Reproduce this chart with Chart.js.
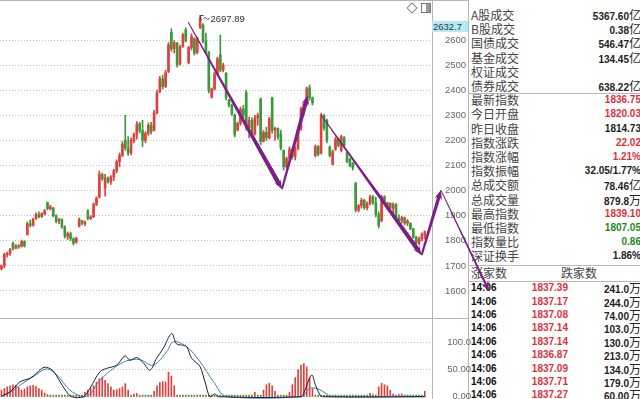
<!DOCTYPE html>
<html><head><meta charset="utf-8">
<script src="https://cdn.jsdelivr.net/npm/chart.js@4"></script>
<style>
html,body{margin:0;padding:0;background:#fff;}
#wrap{position:relative;width:640px;height:399px;overflow:hidden;background:#fff;}
#c{position:absolute;left:0;top:0;z-index:2;}
#panel{position:absolute;left:468px;top:0;width:171px;height:399px;border-left:1px solid #b4b4b4;z-index:1;font-family:"Noto Sans CJK SC",sans-serif;}
.row{position:absolute;left:2px;right:0;height:14px;line-height:14px;font-size:12px;color:#444;white-space:nowrap;}
.val{position:absolute;right:-1px;top:0;font:bold 10px "Liberation Sans",sans-serif;line-height:14px;color:#222;}
.u{font:12px "Noto Sans CJK SC",sans-serif;line-height:14px;}
.sep{position:absolute;left:0;right:0;height:1px;background:#b8b8b8;}
.tm{position:absolute;left:0;top:0;font:bold 10px "Liberation Sans",sans-serif;line-height:14px;color:#111;}
.pr{position:absolute;right:72px;top:0;font:bold 10px "Liberation Sans",sans-serif;line-height:14px;color:#e0303a;}
.r{color:#e0303a;} .g{color:#1e8a1e;} .k{color:#222;}
#cur{position:absolute;left:432px;top:21px;width:35px;height:11px;background:#b4eaf2;font:9.5px "Liberation Sans",sans-serif;line-height:11px;color:#334;z-index:3;padding-left:1px;}
#ic1{position:absolute;left:408px;top:4px;width:6px;height:6px;border:1px solid #888;transform:rotate(45deg);z-index:3;}
#ic2{position:absolute;left:421px;top:3px;width:8px;height:8px;border:1px solid #777;z-index:3;background:linear-gradient(90deg,#fff 50%,#999 50%);}
</style></head>
<body>
<div id="wrap">
<canvas id="c" width="640" height="399"></canvas>
<div id="cur">2632.7</div>
<div id="ic1"></div><div id="ic2"></div>
<div id="panel"></div>
</div>
<script>
// ---- candle data [open, high, low, close] ----
const ohlc = [
[1688,1704,1684,1700],[1700,1751,1692,1745],[1745,1755,1735,1750],[1750,1770,1742,1765],[1790,1795,1763,1770],
[1770,1785,1768,1780],[1780,1785,1770,1775],[1778,1803,1775,1798],[1798,1800,1775,1780],[1825,1875,1823,1868],
[1868,1883,1855,1862],[1862,1890,1858,1885],[1888,1911,1885,1905],[1905,1915,1891,1896],[1896,1912,1893,1908],
[1908,1925,1903,1920],[1952,1955,1923,1928],[1928,1942,1922,1935],[1931,1933,1895,1900],[1900,1903,1871,1878],
[1878,1890,1868,1885],[1885,1888,1850,1855],[1855,1860,1811,1818],[1818,1835,1805,1828],[1828,1835,1800,1808],
[1808,1812,1783,1790],[1795,1815,1790,1810],[1858,1891,1855,1885],[1880,1882,1863,1868],[1868,1880,1860,1875],
[1920,1923,1883,1888],[1888,1900,1885,1895],[1895,1951,1893,1945],[1945,1975,1940,1970],[1975,2078,1970,2065],
[2065,2070,2040,2048],[2010,2065,1978,2050],[2050,2055,2030,2035],[2035,2060,2025,2055],[2055,2085,2040,2078],
[2078,2122,2070,2115],[2115,2150,2095,2140],[2140,2195,2135,2185],[2200,2300,2160,2170],[2170,2215,2140,2150],
[2150,2210,2142,2200],[2200,2230,2190,2222],[2222,2275,2205,2265],[2265,2272,2230,2240],[2240,2280,2175,2200],
[2200,2235,2190,2228],[2228,2270,2220,2260],[2260,2272,2225,2235],[2240,2320,2238,2310],[2310,2400,2305,2390],
[2395,2455,2390,2445],[2445,2460,2405,2415],[2415,2480,2410,2470],[2475,2590,2470,2580],[2630,2645,2555,2565],
[2565,2598,2548,2590],[2588,2590,2492,2500],[2505,2580,2500,2572],[2575,2628,2570,2620],[2640,2648,2592,2598],
[2510,2575,2505,2570],[2570,2625,2560,2615],[2605,2610,2540,2548],[2550,2612,2545,2605],[2650,2697.89,2645,2688],
[2660,2665,2588,2595],[2595,2628,2545,2550],[2550,2555,2389,2400],[2372,2409,2369,2405],[2405,2473,2400,2465],
[2465,2532,2460,2525],[2540,2620,2473,2480],[2480,2508,2473,2500],[2468,2470,2361,2370],[2361,2365,2333,2340],
[2340,2345,2300,2305],[2301,2305,2214,2222],[2241,2273,2238,2268],[2268,2333,2260,2325],[2325,2340,2290,2300],
[2390,2400,2241,2250],[2250,2293,2210,2280],[2280,2290,2215,2225],[2225,2300,2221,2290],[2290,2309,2260,2300],
[2365,2369,2182,2195],[2195,2240,2194,2232],[2232,2253,2200,2210],[2210,2293,2205,2285],[2370,2373,2229,2240],
[2240,2253,2201,2248],[2248,2250,2205,2215],[2225,2241,2162,2170],[2160,2162,2082,2095],[2095,2134,2090,2128],
[2128,2174,2120,2165],[2165,2170,2125,2135],[2135,2175,2122,2168],[2168,2253,2162,2245],[2245,2333,2241,2325],
[2325,2350,2300,2345],[2345,2413,2340,2405],[2410,2421,2360,2370],[2370,2373,2341,2350],[2140,2182,2134,2175],
[2175,2180,2138,2145],[2150,2309,2145,2300],[2300,2305,2241,2250],[2280,2285,2190,2200],[2174,2178,2134,2140],
[2105,2162,2102,2155],[2165,2213,2160,2205],[2205,2210,2174,2180],[2160,2221,2154,2215],[2210,2215,2174,2180],
[2150,2152,2110,2115],[2125,2130,2094,2100],[2110,2112,2082,2090],[2030,2032,1915,1922],[1922,1945,1915,1940],
[1940,1970,1930,1962],[1962,1965,1925,1932],[1932,1955,1923,1948],[1948,1982,1943,1975],[1975,1980,1945,1952],
[1952,1974,1895,1905],[1905,1915,1851,1860],[1880,1982,1875,1975],[1975,1980,1950,1958],[1930,1955,1923,1950],
[1950,1952,1925,1930],[1930,1951,1900,1945],[1945,1948,1883,1890],[1890,1903,1871,1880],[1880,1898,1870,1892],
[1892,1895,1863,1870],[1870,1885,1860,1878],[1870,1872,1843,1848],[1848,1850,1810,1815],[1815,1818,1771,1790],
[1790,1815,1785,1808],[1808,1832,1800,1825],[1822,1839.10,1807.05,1836.75]
];
const priceTicks = [1600,1700,1800,1900,2000,2100,2200,2300,2400,2500,2600];
const indTicks = [0,50,100];
const indTickLabels = ['0.00','50.00','100.0'];
const peakValue = 2697.89;
const peakIndex = 69;
const indPanelTop = 144.7;

// ---- lower indicator ----
const histRed = [12,15,18,20,22,21,17,12,14,18,20,21,19,15,12,7,4,
0,0,0,0,0,0,0,0,0,0,0,0,
8,12,15,20,27,33,36,30,24,18,12,13,15,18,24,12,
0,5,6,0,0,0,0,0,
10,20,26,28,27,45,38,20,
0,0,0,0,0,0,0,0,0,0,0,0,0,0,0,0,0,0,0,0,0,0,0,0,0,0,0,
8,0,0,12,22,25,20,10,0,0,0,0,
8,22,35,50,58,61,55,35,15,
0,0,0,0,0,0,0,0,0,0,0,0,0,0,0,0,0,0,0,
6,4,0,18,25,22,20,12,5,0,4,5,0,0,0,0,0,0,0,10];
const histGreen = [0,0,0,0,0,0,0,0,0,0,0,0,0,0,0,0,0,
3,3,3,3,3,3,3,3,3,3,3,3,
0,0,0,0,0,0,0,0,0,0,0,0,0,0,0,0,
3,0,0,3,3,3,3,3,
0,0,0,0,0,0,0,0,
3,3,3,3,3,3,3,3,3,3,3,3,3,3,3,3,3,3,3,3,3,3,3,3,3,3,3,
0,3,3,0,0,0,0,0,3,3,3,3,
0,0,0,0,0,0,0,0,0,
3,3,3,3,3,3,3,3,3,3,3,3,3,3,3,3,3,3,3,
0,0,3,0,0,0,0,0,0,3,0,0,3,3,3,3,3,3,3,0];
const kLine = [[0,1],[3,9],[6.4,27],[9.9,34],[12.2,43],[14,52],[15.7,54],[18,47],[20.3,28],[22.6,9],[24.4,0],[28.4,0],[30.8,16],[34.2,46],[36.5,52],[40,58],[42.9,75],[44.6,67],[47,72],[49.3,62],[51.6,49],[53.9,71],[56.2,89],[59.1,116],[60.8,97],[62.6,95],[64.3,92],[66,71],[67.8,62],[69,55],[70.7,27],[72.4,0],[74,5],[75.5,0],[104,0],[105,7],[107.7,40],[109,22],[110.6,3],[111.5,0],[147,0]];
const dLine = [[0,1],[3,8],[6.4,21],[11.1,37],[15.7,51],[19.2,40],[23.8,12],[27.9,0],[29,0],[31,6],[34.2,30],[38.9,52],[43.5,66],[48.1,68],[52.7,58],[57.4,83],[59.7,101],[64.3,92],[69,64],[73.6,28],[78.2,0],[104.5,0],[106,10],[107.7,16],[110,14],[113,5],[114,0],[147,0]];

// ---- drawn trend arrows: [index, value] from -> to ----
const trendArrows = [
  {from:[64.8,2672], to:[97.4,2006], w0:1, w1:4.5},
  {from:[97.4,2006], to:[106.4,2380], w0:2, w1:4},
  {from:[111,2301], to:[145.9,1743], w0:1, w1:4.5},
  {from:[145.9,1743], to:[152.6,2002], w0:2, w1:3.5},
  {from:[152.6,2002], to:[169.3,1600], w0:1, w1:2.2}
];

// ---- right panel ----
const statLabels = ['A股成交','B股成交','国债成交','基金成交','权证成交','债券成交','最新指数','今日开盘','昨日收盘','指数涨跌','指数涨幅','指数振幅','总成交额','总成交量','最高指数','最低指数','指数量比','深证换手'];
const statValues = ['5367.60亿','0.38亿','546.47亿','134.45亿','','638.22亿','1836.75','1820.03','1814.73','22.02','1.21%','32.05/1.77%','78.46亿','879.8万','1839.10','1807.05','0.86','1.86%'];
const statColors = ['k','k','k','k','k','k','r','r','k','r','r','k','k','k','r','g','g','k'];
const tickTimes = ['14:06','14:06','14:06','14:06','14:06','14:06','14:06','14:06','14:06'];
const tickPrices = ['1837.39','1837.17','1837.08','1837.14','1837.14','1836.87','1837.09','1837.71','1837.27'];
const tickVols = ['241.0万','244.0万','74.00万','103.0万','130.0万','213.0万','134.0万','179.0万','60.00万'];

const UP = '#e2403c', DOWN = '#3a9a3a';

function fmtVal(s){
  return s.replace(/([亿万])/g,'<span class="u">$1</span>');
}
(function buildPanel(){
  const p = document.getElementById('panel');
  let h = '';
  statLabels.forEach((lab,k)=>{
    const c = 15 + 14.2*k;
    h += `<div class="row" style="top:${(c-7).toFixed(1)}px">${lab}<span class="val ${statColors[k]}">${fmtVal(statValues[k])}</span></div>`;
  });
  h += `<div class="sep" style="top:92.5px"></div><div class="sep" style="top:264.5px"></div><div class="sep" style="top:281px"></div>`;
  h += `<div class="row" style="top:266px">涨家数<span style="position:absolute;left:90px">跌家数</span></div>`;
  tickTimes.forEach((t,k)=>{
    const c = 288.3 + 13.36*k;
    h += `<div class="row" style="top:${(c-7).toFixed(1)}px"><span class="tm">${t}</span><span class="pr">${tickPrices[k]}</span><span class="val">${fmtVal(tickVols[k])}</span></div>`;
  });
  p.innerHTML = h;
})();

function drawArrow(ctx,x0,y0,x1,y1,w0,w1,hl,hw){
  const dx=x1-x0, dy=y1-y0, L=Math.hypot(dx,dy), ux=dx/L, uy=dy/L, nx=-uy, ny=ux;
  const bx=x1-ux*hl, by=y1-uy*hl;
  const mx=x1-ux*hl*0.75, my=y1-uy*hl*0.75;
  ctx.beginPath();
  ctx.moveTo(x0+nx*w0/2,y0+ny*w0/2);
  ctx.lineTo(mx+nx*w1/2,my+ny*w1/2);
  ctx.lineTo(bx+nx*hw/2,by+ny*hw/2);
  ctx.lineTo(x1,y1);
  ctx.lineTo(bx-nx*hw/2,by-ny*hw/2);
  ctx.lineTo(mx-nx*w1/2,my-ny*w1/2);
  ctx.lineTo(x0-nx*w0/2,y0-ny*w0/2);
  ctx.closePath();
  ctx.fill();
}

const deco = {
  id:'deco',
  beforeDatasetsDraw(chart){
    const ctx = chart.ctx, ca = chart.chartArea, y2 = chart.scales.y2;
    ctx.save();
    ctx.strokeStyle = '#b4b4b4'; ctx.lineWidth = 1;
    ctx.beginPath();
    ctx.moveTo(0,0.5); ctx.lineTo(468,0.5);
    ctx.moveTo(ca.right+0.5,0); ctx.lineTo(ca.right+0.5,399);
    const sy = Math.round(y2.getPixelForValue(indPanelTop))+0.5;
    ctx.moveTo(0,sy); ctx.lineTo(468,sy);
    ctx.stroke();
    ctx.restore();
  },
  afterDraw(chart){
    const ctx = chart.ctx, xs = chart.scales.x, ys = chart.scales.y;
    ctx.save();
    ctx.fillStyle = '#7a2086';
    trendArrows.forEach(a=>{
      drawArrow(ctx, xs.getPixelForValue(a.from[0]), ys.getPixelForValue(a.from[1]),
        xs.getPixelForValue(a.to[0]), ys.getPixelForValue(a.to[1]), a.w0, a.w1, 10, 8);
    });
    // peak label
    const px = Math.round(xs.getPixelForValue(peakIndex))+0.5, py = Math.round(ys.getPixelForValue(peakValue))+0.5;
    ctx.strokeStyle = '#444'; ctx.lineWidth = 1;
    ctx.beginPath();
    ctx.moveTo(px,py+5); ctx.lineTo(px,py); ctx.lineTo(px+3,py);
    ctx.moveTo(px+3,py+3); ctx.quadraticCurveTo(px+5,py+1,px+6,py+3); ctx.quadraticCurveTo(px+7,py+5,px+9,py+3);
    ctx.stroke();
    ctx.fillStyle = '#333';
    ctx.font = '9.5px "Liberation Sans"';
    ctx.textBaseline = 'middle';
    ctx.fillText(peakValue.toFixed(2), px+10, py+3.5);
    ctx.restore();
  }
};

function noPad(s, w){ s.width = w; s.paddingTop = 0; s.paddingBottom = 0; s.paddingLeft = 0; s.paddingRight = 0; }

Chart.defaults.font.family = '"Liberation Sans", sans-serif';
const idx = ohlc.map((_,i)=>i);
new Chart(document.getElementById('c'), {
  type:'bar',
  data:{
    datasets:[
      {type:'bar', xAxisID:'x', yAxisID:'y', grouped:false, barThickness:2, minBarLength:1,
       data: idx.map(i=>({x:i, y:[ohlc[i][0], ohlc[i][3]]})),
       backgroundColor: c => ohlc[c.dataIndex][3] >= ohlc[c.dataIndex][0] ? UP : DOWN},
      {type:'bar', xAxisID:'x', yAxisID:'y', grouped:false, barThickness:1,
       data: idx.map(i=>({x:i, y:[ohlc[i][2], ohlc[i][1]]})),
       backgroundColor: c => ohlc[c.dataIndex][3] >= ohlc[c.dataIndex][0] ? UP : DOWN},
      {type:'line', xAxisID:'x', yAxisID:'y2', data:kLine.map(p=>({x:p[0],y:p[1]})),
       borderColor:'#222', borderWidth:1, pointRadius:0, tension:0.35, fill:false},
      {type:'line', xAxisID:'x', yAxisID:'y2', data:dLine.map(p=>({x:p[0],y:p[1]})),
       borderColor:'#3b7fc4', borderWidth:1, pointRadius:0, tension:0.35, fill:false},
      {type:'bar', xAxisID:'x', yAxisID:'y2', grouped:false, barThickness:1,
       data: idx.map(i=>({x:i, y:histRed[i]})), backgroundColor:'#e2403c'},
      {type:'bar', xAxisID:'x', yAxisID:'y2', grouped:false, barThickness:1,
       data: idx.map(i=>({x:i, y:histGreen[i]})), backgroundColor:'#3a9a3a'}
    ]
  },
  options:{
    responsive:false, animation:false, devicePixelRatio:1,
    layout:{padding:{top:1, right:172, bottom:0, left:0}},
    plugins:{legend:{display:false}, tooltip:{enabled:false}},
    scales:{
      x:{type:'linear', min:-0.5, max:149.5, display:false, offset:false, grid:{offset:false}},
      y:{type:'linear', position:'right', min:1169.7, max:2755.4,
         afterFit:s=>noPad(s,36),
         afterBuildTicks:s=>{s.ticks = priceTicks.map(v=>({value:v}));},
         ticks:{crossAlign:'near', padding:13, color:'#666', font:{size:9.5}, callback:v=>String(v)},
         grid:{color:'#c4c4c4', lineWidth:1, drawTicks:false},
         border:{display:false, dash:[1,2]}},
      y2:{type:'linear', position:'right', min:-4.23, max:727.4,
         afterFit:s=>noPad(s,0),
         afterBuildTicks:s=>{s.ticks = indTicks.map(v=>({value:v}));},
         ticks:{mirror:true, padding:3, color:'#666', font:{size:9.5},
                callback:v=>indTickLabels[indTicks.indexOf(v)]},
         grid:{color:c=> (c.tick && c.tick.value>0) ? '#c4c4c4' : 'rgba(0,0,0,0)', lineWidth:1, drawTicks:false},
         border:{display:false, dash:[1,2]}}
    }
  },
  plugins:[deco]
});
</script>
</body></html>
